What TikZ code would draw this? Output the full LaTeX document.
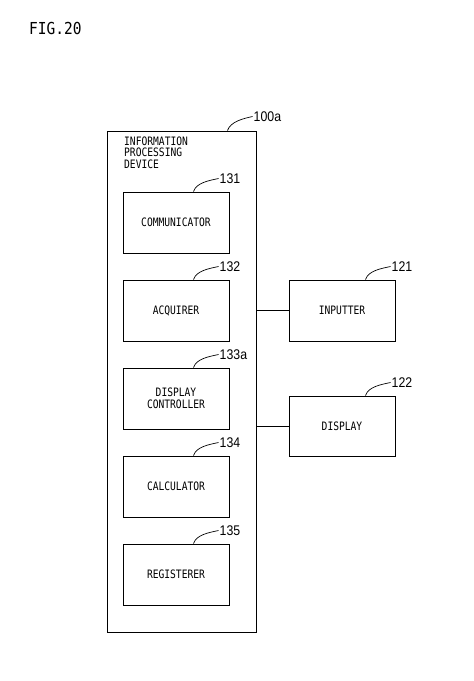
\documentclass[tikz,border=0pt]{standalone}
\usepackage{fontspec}
\setmainfont{DejaVu Sans Mono}[FakeStretch=0.83]
\newfontfamily\numfont{Liberation Sans}[FakeStretch=0.88]
\newfontfamily\figfont{DejaVu Sans Mono}[FakeStretch=0.88]
\usetikzlibrary{calc}
\begin{document}
\begin{tikzpicture}[x=1pt,y=-1pt,
  box/.style={draw,line width=1pt,minimum width=106pt,minimum height=61pt,inner sep=0pt,font=\fontsize{11.6}{12}\selectfont,align=center},
  refnum/.style={anchor=west,inner sep=1pt,font=\numfont\fontsize{14}{14}\selectfont},
  leader/.style={line width=0.7pt}]
\useasboundingbox (0,0) rectangle (474,681);
\node[anchor=west,inner sep=0pt,font=\figfont\fontsize{16.5}{17}\selectfont] (fig) at (29,28) {FIG.20};
% outer device
\node[draw,line width=1pt,minimum width=149pt,minimum height=501pt,inner sep=0pt] (dev) at (181.5,381.5) {};
\node[anchor=north west,inner sep=0pt,align=left,font=\fontsize{11.6}{11.4}\selectfont] (devt) at (124,136.5) {INFORMATION\\PROCESSING\\DEVICE};
% inner boxes
\node[box] (com) at (176,222.5) {COMMUNICATOR};
\node[box] (acq) at (176,310.5) {ACQUIRER};
\node[box] (dct) at (176,398.5) {DISPLAY\\CONTROLLER};
\node[box] (cal) at (176,486.5) {CALCULATOR};
\node[box] (reg) at (176,574.5) {REGISTERER};
% external boxes
\node[box] (inp) at (342,310.5) {INPUTTER};
\node[box,minimum height=60pt] (dsp) at (342,426) {DISPLAY};
% connectors
\draw[line width=1pt] (dev.east |- inp.west) -- (inp.west);
\draw[line width=1pt] (dev.east |- dsp.west) -- (dsp.west);
% reference numerals
\coordinate (s100) at ($(dev.north west)+(121,0)$);
\node[refnum] (n100) at ($(s100)+(25,-14)$) {100a};
\draw[leader] (s100) .. controls +(3,-9) and +(-9,2) .. (n100.west);
\foreach \b/\t in {com/131,acq/132,dct/133a,cal/134,reg/135}{
  \coordinate (s\b) at ($(\b.north west)+(71,0)$);
  \node[refnum] (n\b) at ($(s\b)+(25,-13)$) {\t};
  \draw[leader] (s\b) .. controls +(3,-9) and +(-9,2) .. (n\b.west);
}
\foreach \b/\t in {inp/121,dsp/122}{
  \coordinate (s\b) at ($(\b.north west)+(77,0)$);
  \node[refnum] (n\b) at ($(s\b)+(25,-13)$) {\t};
  \draw[leader] (s\b) .. controls +(3,-9) and +(-9,2) .. (n\b.west);
}
\end{tikzpicture}
\end{document}
